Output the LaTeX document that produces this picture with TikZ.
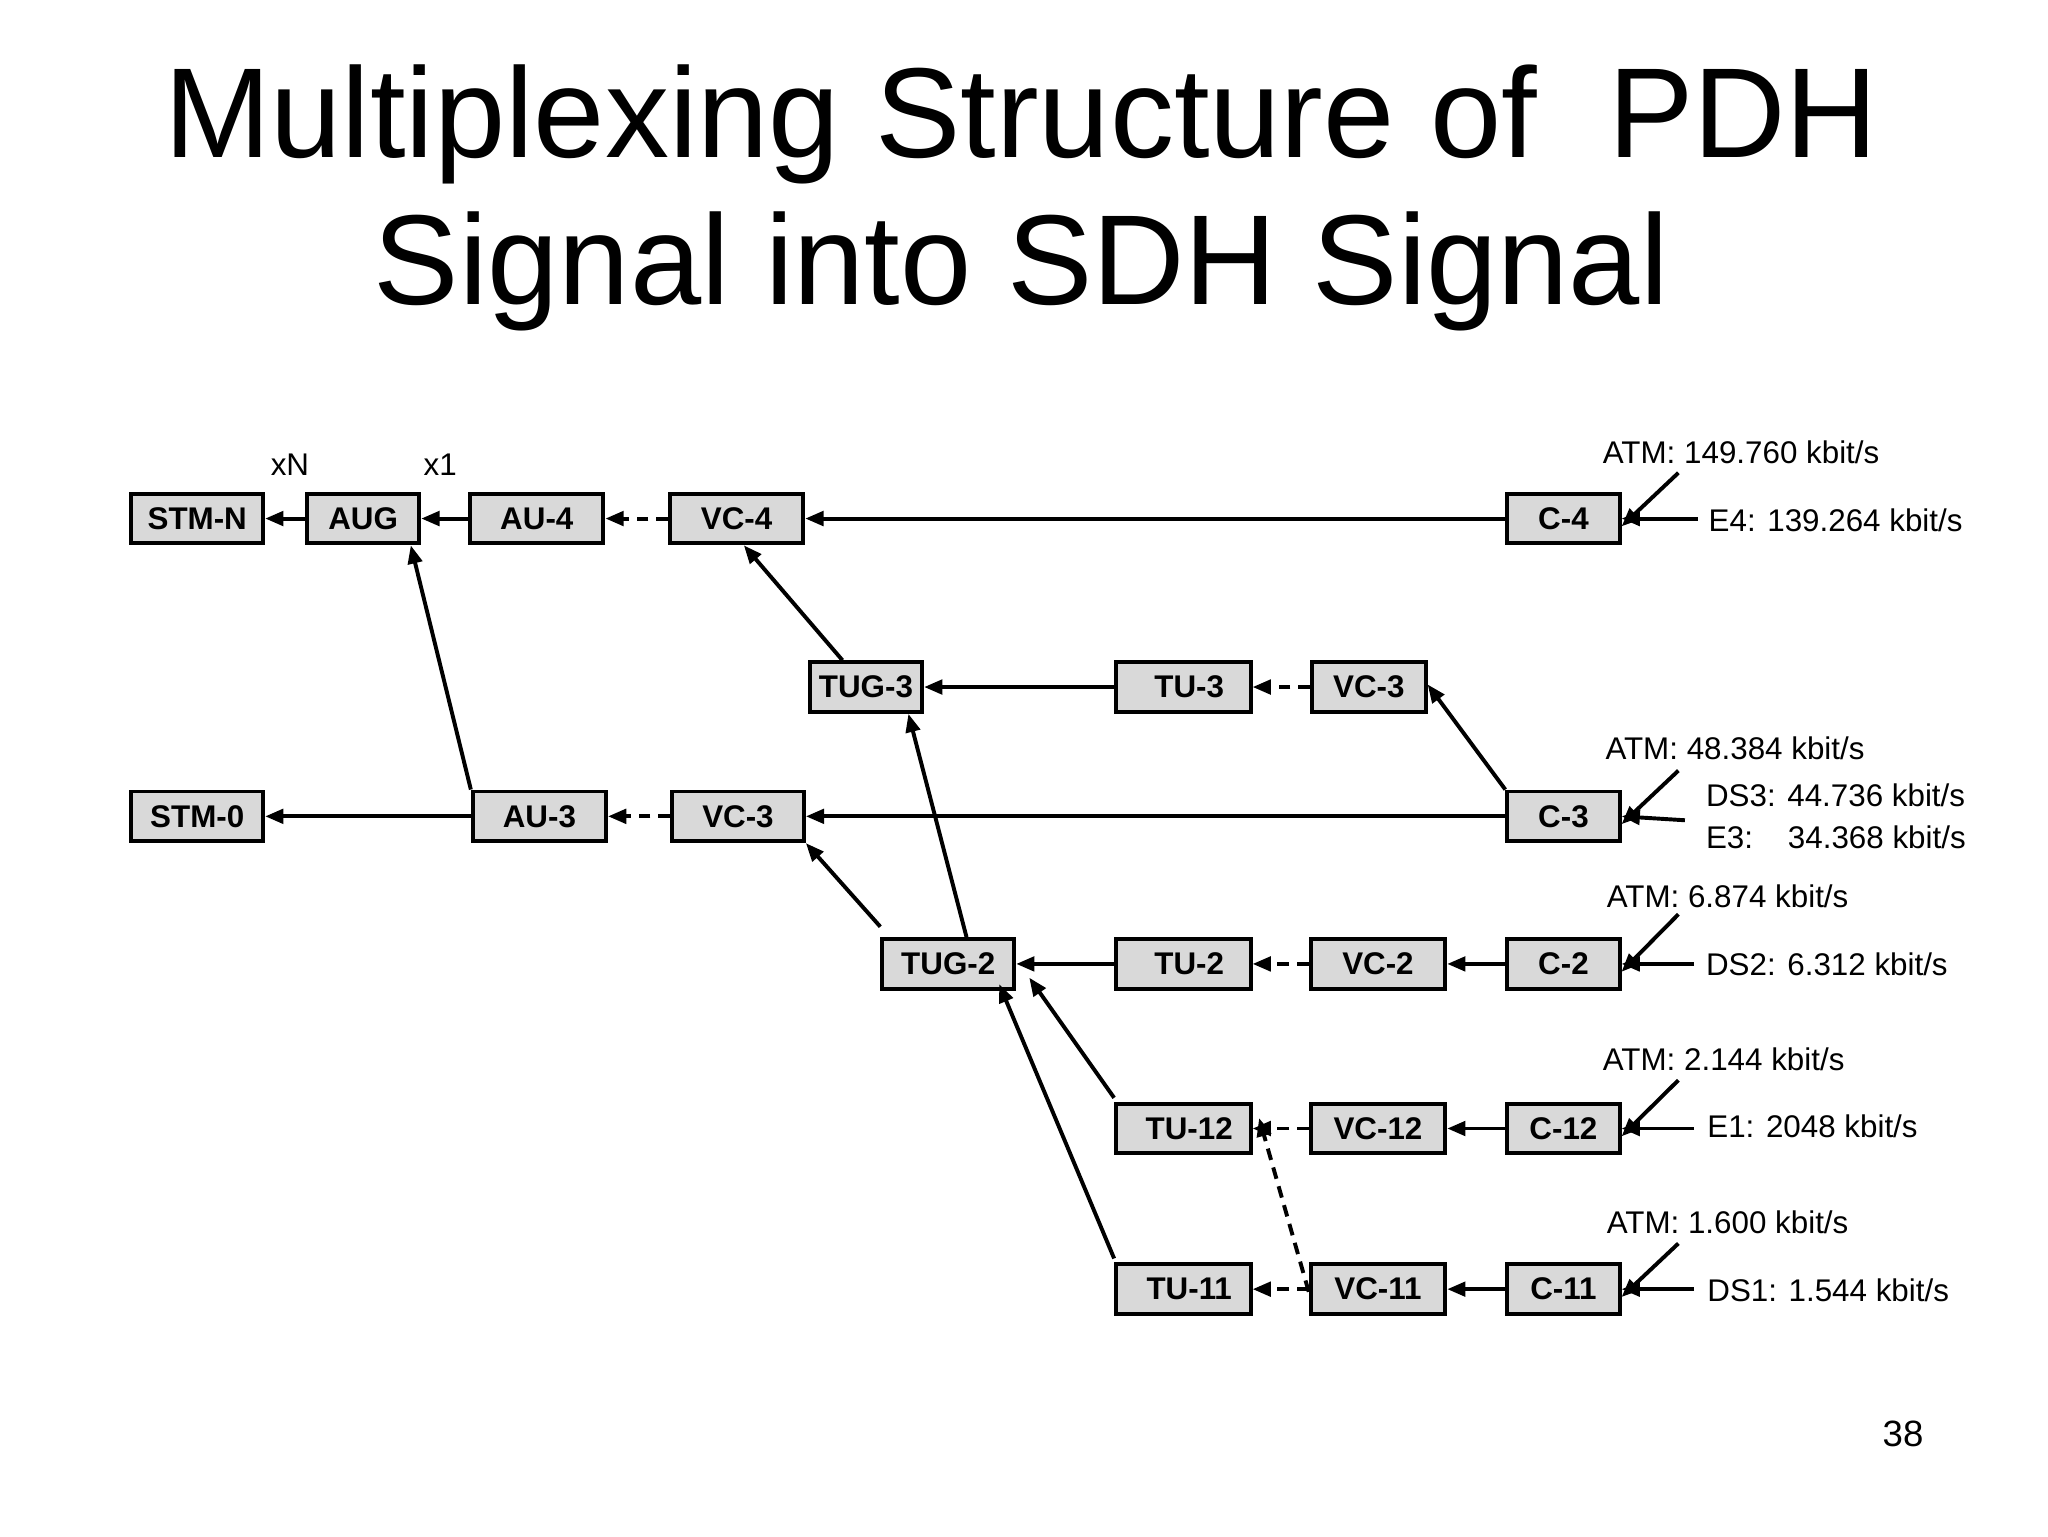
\documentclass[tikz,border=0pt]{standalone}
\usepackage{fontspec}
\setmainfont{Liberation Sans}
\usetikzlibrary{arrows.meta}
\begin{document}
\begin{tikzpicture}[x=1pt,y=-1pt,
  box/.style={draw,line width=3pt,fill=black!15,minimum height=38pt,inner sep=0pt,font=\fontsize{24}{26}\selectfont\bfseries},
  tubox/.style={box,path picture={\fill (path picture bounding box.north west) rectangle ([xshift=9pt]path picture bounding box.south west);}},
  con/.style={line width=3pt,-{Triangle[length=14pt,width=11pt]}},
  dcon/.style={con,dash pattern=on 9pt off 6pt},
  lbl/.style={anchor=west,font=\fontsize{24}{26}\selectfont,inner sep=0pt}]
\useasboundingbox (0,0) rectangle (1568,1176);
\node at (782,95) {\fontsize{98}{110}\selectfont Multiplexing Structure of~~PDH};
\node at (782,208) {\fontsize{98}{110}\selectfont Signal into SDH Signal};
\node at (1457,1098) {\fontsize{28}{30}\selectfont 38};
% boxes
\node[box,minimum width=101pt] (stmn) at (151,397) {STM-N};
\node[box,minimum width=86pt] (aug) at (278,397) {AUG};
\node[box,minimum width=102pt] (au4) at (411,397) {AU-4};
\node[box,minimum width=102pt] (vc4) at (564,397) {VC-4};
\node[box,minimum width=86pt] (c4) at (1197,397) {C-4};
\node[box,minimum width=86pt] (tug3) at (663,526) {TUG-3};
\node[tubox,minimum width=103pt] (tu3) at (906,526) {\hspace{9pt}TU-3};
\node[box,minimum width=87pt] (vc3t) at (1048,526) {VC-3};
\node[box,minimum width=101pt] (stm0) at (151,625) {STM-0};
\node[box,minimum width=102pt] (au3) at (413,625) {AU-3};
\node[box,minimum width=101pt] (vc3) at (565,625) {VC-3};
\node[box,minimum width=86pt] (c3) at (1197,625) {C-3};
\node[box,minimum width=101pt] (tug2) at (726,738) {TUG-2};
\node[tubox,minimum width=103pt] (tu2) at (906,738) {\hspace{9pt}TU-2};
\node[box,minimum width=103pt] (vc2) at (1055,738) {VC-2};
\node[box,minimum width=86pt] (c2) at (1197,738) {C-2};
\node[tubox,minimum width=103pt] (tu12) at (906,864) {\hspace{9pt}TU-12};
\node[box,minimum width=103pt] (vc12) at (1055,864) {VC-12};
\node[box,minimum width=86pt] (c12) at (1197,864) {C-12};
\node[tubox,minimum width=103pt] (tu11) at (906,987) {\hspace{9pt}TU-11};
\node[box,minimum width=103pt] (vc11) at (1055,987) {VC-11};
\node[box,minimum width=86pt] (c11) at (1197,987) {C-11};
% horizontal connectors
\draw[con] (c4) -- (vc4);
\draw[dcon] (vc4) -- (au4);
\draw[con] (au4) -- (aug);
\draw[con] (aug) -- (stmn);
\draw[con] (au3) -- (stm0);
\draw[dcon] (vc3) -- (au3);
\draw[con] (c3) -- (vc3);
\draw[con] (tu3) -- (tug3);
\draw[dcon] (vc3t) -- (tu3);
\draw[con] (tu2) -- (tug2);
\draw[dcon] (vc2) -- (tu2);
\draw[con] (c2) -- (vc2);
\draw[dcon] (vc12) -- (tu12);
\draw[con] (c12) -- (vc12);
\draw[dcon] (vc11) -- (tu11);
\draw[con] (c11) -- (vc11);
% diagonal connectors
\draw[con] (au3.north west) -- ([xshift=-8pt]aug.south east);
\draw[con] ([xshift=-18pt]tug3.north) -- ([xshift=58pt]vc4.south west);
\draw[con] (c3.north west) -- ([yshift=2pt]vc3t.east);
\draw[con] ([yshift=8pt]tug2.north west) -- (vc3.south east);
\draw[con] ([xshift=14pt]tug2.north) -- ([xshift=-12pt]tug3.south east);
\draw[con] ([yshift=3pt]tu12.north west) -- ([xshift=10pt,yshift=10pt]tug2.south east);
\draw[con] ([yshift=3pt]tu11.north west) -- ([xshift=39pt,yshift=5pt]tug2.south);
\draw[dcon] ([yshift=-2pt]vc11.west) -- ([xshift=5pt,yshift=8pt]tu12.east);
% inputs
\coordinate (i4) at (1300,397);
\coordinate (i3) at (1290,628);
\coordinate (i2) at (1297,738);
\coordinate (i12) at (1297,864);
\coordinate (i11) at (1297,987);
\foreach \c in {4,3,2,12,11}{\draw[con] (i\c) -- (c\c.east);}
\foreach \c/\y in {4/362,3/590,2/700,12/827,11/952}{
  \coordinate (a\c) at (1285,\y);
  \draw[con] (a\c) -- ([yshift=-6pt]c\c.east);}
\node[lbl] at (1227,346) {ATM: 149.760 kbit/s};
\node[lbl] at (1308,398) {E4: 139.264 kbit/s};
\node[lbl] at (1229,573) {ATM: 48.384 kbit/s};
\node[lbl] at (1306,609) {DS3: 44.736 kbit/s};
\node[lbl] at (1306,641) {E3:~~~~34.368 kbit/s};
\node[lbl] at (1230,686) {ATM: 6.874 kbit/s};
\node[lbl] at (1306,738) {DS2: 6.312 kbit/s};
\node[lbl] at (1227,811) {ATM: 2.144 kbit/s};
\node[lbl] at (1307,862) {E1: 2048 kbit/s};
\node[lbl] at (1230,936) {ATM: 1.600 kbit/s};
\node[lbl] at (1307,988) {DS1: 1.544 kbit/s};
\node[font=\fontsize{24}{26}\selectfont] at (222,356) {xN};
\node[font=\fontsize{24}{26}\selectfont] at (337,356) {x1};
\end{tikzpicture}
\end{document}
